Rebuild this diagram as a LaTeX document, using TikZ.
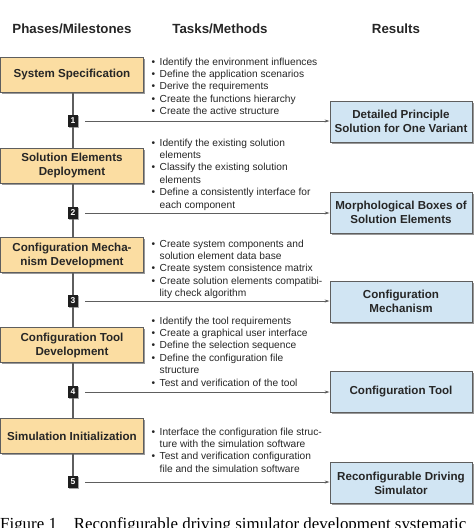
\documentclass[tikz,border=0pt]{standalone}
\usepackage{fontspec}
\setmainfont{Liberation Serif}
\setsansfont{Liberation Sans}
\usetikzlibrary{arrows.meta,shadows}

\definecolor{Phase}{HTML}{FBDDA2}
\definecolor{Result}{HTML}{D1E5F3}
\definecolor{Frame}{HTML}{5E5E5E}
\definecolor{Marker}{HTML}{1E1E1E}
\definecolor{Ink}{HTML}{262626}

\newcommand{\bl}{\makebox[8pt][l]{\textbullet}}
\newcommand{\ct}{\hspace*{8pt}}

\begin{document}
\begin{tikzpicture}[x={(1pt,0)}, y={(0,-1pt)}, font=\sffamily, text=Ink,
  phase/.style={draw=Frame, line width=0.8pt, fill=Phase, minimum width=143pt, minimum height=35pt,
    inner sep=0pt, align=center, font=\sffamily\bfseries\fontsize{11.6}{14}\selectfont,
    drop shadow={shadow xshift=1.6pt, shadow yshift=-1.6pt, fill=gray!80, opacity=1}},
  result/.style={phase, fill=Result, minimum width=142pt, minimum height=41pt},
  marker/.style={fill=Marker, text=white, minimum width=10.5pt, minimum height=12pt, inner sep=0pt,
    font=\sffamily\bfseries\fontsize{8.5}{9}\selectfont,
    drop shadow={shadow xshift=1pt, shadow yshift=-1pt, fill=gray!70, opacity=1}},
  tasks/.style={anchor=north west, inner sep=0pt, align=left, font=\sffamily\fontsize{10.2}{12.4}\selectfont},
  head/.style={font=\sffamily\bfseries\fontsize{13.3}{15}\selectfont, inner sep=0pt},
  flow/.style={draw=Frame, line width=1.3pt},
  deliver/.style={draw=Frame, line width=0.8pt, -{Stealth[length=5pt,width=3pt]}}]

\useasboundingbox (0,0) rectangle (474,528);

%%%%%%%%%% Headers %%%%%%%%%%
 \node[head] (h1) at (72,29) {Phases/Milestones};
 \node[head] (h2) at (220,29) {Tasks/Methods};
 \node[head] (h3) at (396,29) {Results};

%%%%%%%%%% Phases %%%%%%%%%%
 \node[phase] (p1) at (72,74.5) {System Specification};
 \node[phase] (p2) at (72,165.5) {Solution Elements\\Deployment};
 \node[phase] (p3) at (72,255) {Configuration Mecha-\\nism Development};
 \node[phase] (p4) at (72,345) {Configuration Tool\\Development};
 \node[phase] (p5) at (72,436) {Simulation Initialization};

%%%%%%%%%% Milestones %%%%%%%%%%
 \node[marker] (m1) at (73,121) {1};
 \node[marker] (m2) at (73,213) {2};
 \node[marker] (m3) at (73,301) {3};
 \node[marker] (m4) at (73,392) {4};
 \node[marker] (m5) at (73,482) {5};

%%%%%%%%%% Results %%%%%%%%%%
 \node[result] (r1) at (401,121.5) {Detailed Principle\\Solution for One Variant};
 \node[result] (r2) at (401,212.5) {Morphological Boxes of\\Solution Elements};
 \node[result] (r3) at (401,301.5) {Configuration\\Mechanism};
 \node[result] (r4) at (401,392) {Configuration Tool};
 \node[result] (r5) at (401,483) {Reconfigurable Driving\\Simulator};

%%%%%%%%%% Tasks %%%%%%%%%%
 \node[tasks] (t1) at (151.5,57.5) {\bl Identify the environment influences\\
   \bl Define the application scenarios\\
   \bl Derive the requirements\\
   \bl Create the functions hierarchy\\
   \bl Create the active structure};
 \node[tasks] (t2) at (151.5,138.5) {\bl Identify the existing solution\\
   \ct elements\\
   \bl Classify the existing solution\\
   \ct elements\\
   \bl Define a consistently interface for\\
   \ct each component};
 \node[tasks] (t3) at (151.5,239.5) {\bl Create system components and\\
   \ct solution element data base\\
   \bl Create system consistence matrix\\
   \bl Create solution elements compatibi-\\
   \ct lity check algorithm};
 \node[tasks] (t4) at (151.5,316.5) {\bl Identify the tool requirements\\
   \bl Create a graphical user interface\\
   \bl Define the selection sequence\\
   \bl Define the configuration file\\
   \ct structure\\
   \bl Test and verification of the tool};
 \node[tasks] (t5) at (151.5,427.5) {\bl Interface the configuration file struc-\\
   \ct ture with the simulation software\\
   \bl Test and verification configuration\\
   \ct file and the simulation software};

%%%%%%%%%% Flow line %%%%%%%%%%
 \draw[flow] (p1.south -| m1) -- (m1.north) ;
 \draw[flow] (m1.south) -- (p2.north -| m1) ;
 \draw[flow] (p2.south -| m2) -- (m2.north) ;
 \draw[flow] (m2.south) -- (p3.north -| m2) ;
 \draw[flow] (p3.south -| m3) -- (m3.north) ;
 \draw[flow] (m3.south) -- (p4.north -| m3) ;
 \draw[flow] (p4.south -| m4) -- (m4.north) ;
 \draw[flow] (m4.south) -- (p5.north -| m4) ;
 \draw[flow] (p5.south -| m5) -- (m5.north) ;

%%%%%%%%%% Deliverables %%%%%%%%%%
 \draw[deliver, shorten <=7pt] (m1.east) -- (m1.east -| r1.west) ;
 \draw[deliver, shorten <=7pt] (m2.east) -- (m2.east -| r2.west) ;
 \draw[deliver, shorten <=7pt] (m3.east) -- (m3.east -| r3.west) ;
 \draw[deliver, shorten <=7pt] (m4.east) -- (m4.east -| r4.west) ;
 \draw[deliver, shorten <=7pt] (m5.east) -- (m5.east -| r5.west) ;

%%%%%%%%%% Caption %%%%%%%%%%
 \node[anchor=base west, inner sep=0pt, text=black, font=\rmfamily\fontsize{16.9}{20}\selectfont] (cap) at (0,529.5)
   {Figure 1\quad Reconfigurable driving simulator development systematic};

\end{tikzpicture}
\end{document}
